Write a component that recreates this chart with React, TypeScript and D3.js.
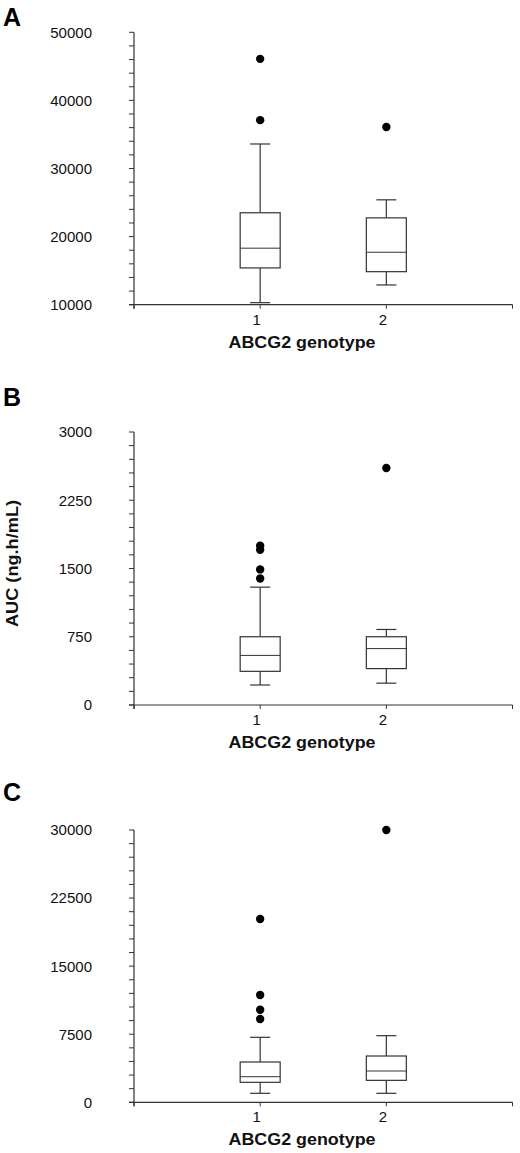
import React from "react";
import * as d3 from "d3";

// ---- data ----
const categories = ["1", "2"];

const aTicks = [10000, 20000, 30000, 40000, 50000];
const aLow = [10300, 12900];
const aQ1 = [15400, 14850];
const aMedian = [18300, 17700];
const aQ3 = [23500, 22750];
const aHigh = [33600, 25400];
const aOutliers = [[46100, 37100], [36100]];

const bTicks = [0, 750, 1500, 2250, 3000];
const bLow = [220, 240];
const bQ1 = [370, 400];
const bMedian = [545, 620];
const bQ3 = [750, 750];
const bHigh = [1295, 830];
const bOutliers = [[1750, 1705, 1490, 1390], [2605]];

const cTicks = [0, 7500, 15000, 22500, 30000];
const cLow = [990, 990];
const cQ1 = [2200, 2420];
const cMedian = [2820, 3450];
const cQ3 = [4440, 5100];
const cHigh = [7160, 7340];
const cOutliers = [[20200, 11820, 10200, 9180], [30000]];

const panelLetters = ["A", "B", "C"];
const xTitle = "ABCG2 genotype";
const yTitleB = "AUC (ng.h/mL)";

// ---- layout ----
const FONT = "'Liberation Sans', Arial, Helvetica, sans-serif";
const STROKE = "#333";
const axisX0 = 134;
const axisX1 = 512.5;
const boxW = 40;
const capW = 20;

type Panel = {
  letter: string;
  letterY: number;
  top: number;
  bottom: number;
  ticks: number[];
  low: number[];
  q1: number[];
  median: number[];
  q3: number[];
  high: number[];
  outliers: number[][];
  yTitle?: string;
};

const panels: Panel[] = [
  { letter: panelLetters[0], letterY: 26, top: 32.3, bottom: 304.7, ticks: aTicks, low: aLow, q1: aQ1, median: aMedian, q3: aQ3, high: aHigh, outliers: aOutliers },
  { letter: panelLetters[1], letterY: 406, top: 432, bottom: 705, ticks: bTicks, low: bLow, q1: bQ1, median: bMedian, q3: bQ3, high: bHigh, outliers: bOutliers, yTitle: yTitleB },
  { letter: panelLetters[2], letterY: 801, top: 830, bottom: 1102.3, ticks: cTicks, low: cLow, q1: cQ1, median: cMedian, q3: cQ3, high: cHigh, outliers: cOutliers },
];

const x = d3.scaleLinear().domain([0, categories.length + 1]).range([axisX0, axisX1]);

function PanelChart({ p }: { p: Panel }) {
  const lo = p.ticks[0];
  const hi = p.ticks[p.ticks.length - 1];
  const y = d3.scaleLinear().domain([lo, hi]).range([p.bottom, p.top]);
  const step = (p.ticks[1] - p.ticks[0]) / 5;
  const minor = d3.range(lo, hi + step / 2, step);
  const xTicks = d3.range(0, categories.length + 2);
  return (
    <g>
      <text x={3} y={p.letterY} fontFamily={FONT} fontWeight="bold" fontSize={25} fill="#000">
        {p.letter}
      </text>
      {/* y axis */}
      <line x1={axisX0} x2={axisX0} y1={p.top} y2={p.bottom + 4} stroke={STROKE} strokeWidth={1.2} />
      {minor.map((v, i) => (
        <line key={"m" + i} x1={axisX0 - 5} x2={axisX0} y1={y(v)} y2={y(v)} stroke={STROKE} strokeWidth={1} />
      ))}
      {p.ticks.map((v) => (
        <text key={"t" + v} x={92} y={y(v)} dy="0.36em" textAnchor="end" fontFamily={FONT} fontSize={15} fill="#111">
          {v}
        </text>
      ))}
      {/* x axis */}
      <line x1={axisX0 - 5} x2={axisX1} y1={p.bottom} y2={p.bottom} stroke={STROKE} strokeWidth={1.2} />
      {xTicks.map((t) => (
        <line key={"xt" + t} x1={x(t)} x2={x(t)} y1={p.bottom} y2={p.bottom + 4} stroke={STROKE} strokeWidth={1} />
      ))}
      {categories.map((c, i) => (
        <text key={"c" + c} x={x(i + 1) - 3.5} y={p.bottom + 20} textAnchor="middle" fontFamily={FONT} fontSize={15} fill="#111">
          {c}
        </text>
      ))}
      <text x={302} y={p.bottom + 43} textAnchor="middle" fontFamily={FONT} fontWeight="bold" fontSize={16.5} fill="#111" textLength={147} lengthAdjust="spacingAndGlyphs">
        {xTitle}
      </text>
      {p.yTitle && (
        <text
          transform={`translate(17.5, ${(p.top + p.bottom) / 2 - 5}) rotate(-90)`}
          textAnchor="middle"
          fontFamily={FONT}
          fontWeight="bold"
          fontSize={16.5}
          fill="#111"
          textLength={127}
          lengthAdjust="spacingAndGlyphs"
        >
          {p.yTitle}
        </text>
      )}
      {/* boxes */}
      {categories.map((c, i) => {
        const cx = x(i + 1);
        return (
          <g key={"b" + c}>
            <line x1={cx} x2={cx} y1={y(p.high[i])} y2={y(p.q3[i])} stroke={STROKE} strokeWidth={1.2} />
            <line x1={cx} x2={cx} y1={y(p.q1[i])} y2={y(p.low[i])} stroke={STROKE} strokeWidth={1.2} />
            <line x1={cx - capW / 2} x2={cx + capW / 2} y1={y(p.high[i])} y2={y(p.high[i])} stroke={STROKE} strokeWidth={1.2} />
            <line x1={cx - capW / 2} x2={cx + capW / 2} y1={y(p.low[i])} y2={y(p.low[i])} stroke={STROKE} strokeWidth={1.2} />
            <rect x={cx - boxW / 2} y={y(p.q3[i])} width={boxW} height={y(p.q1[i]) - y(p.q3[i])} fill="#fff" stroke={STROKE} strokeWidth={1.2} />
            <line x1={cx - boxW / 2} x2={cx + boxW / 2} y1={y(p.median[i])} y2={y(p.median[i])} stroke={STROKE} strokeWidth={1} />
            {p.outliers[i].map((v, k) => (
              <circle key={k} cx={cx} cy={y(v)} r={4.2} fill="#000" />
            ))}
          </g>
        );
      })}
    </g>
  );
}

export default function App() {
  return (
    <svg
      width={520}
      height={1153}
      style={{ position: "absolute", left: 0, top: 0, background: "#fff" }}
    >
      <rect width={520} height={1153} fill="#fff" />
      {panels.map((p) => (
        <PanelChart key={p.letter} p={p} />
      ))}
    </svg>
  );
}
